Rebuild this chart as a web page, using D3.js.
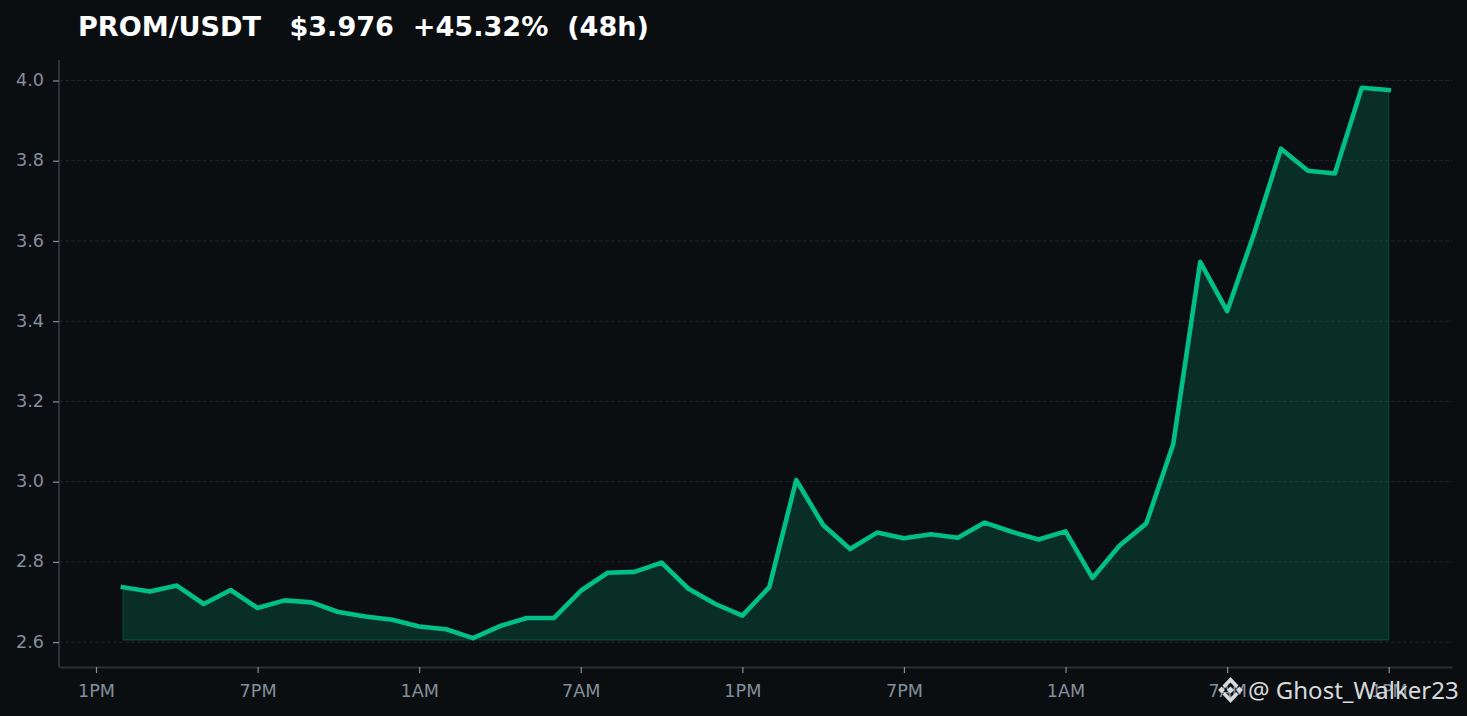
<!DOCTYPE html>
<html>
<head>
<meta charset="utf-8">
<title>PROM/USDT</title>
<script src="https://cdn.jsdelivr.net/npm/d3@7"></script>
<style>
  html, body { margin: 0; padding: 0; background: #0b0e11; overflow: hidden; }
  text { font-family: "DejaVu Sans", sans-serif; }
</style>
</head>
<body>
<div id="chart"></div>
<script>
// hourly closes, first point is 2PM
const prices = [
  2.737, 2.726, 2.741, 2.695, 2.730, 2.685, 2.704, 2.699, 2.675, 2.664,
  2.656, 2.639, 2.632, 2.610, 2.640, 2.660, 2.660, 2.728, 2.773, 2.775,
  2.798, 2.733, 2.695, 2.666, 2.737, 3.004, 2.892, 2.832, 2.873, 2.859,
  2.869, 2.860, 2.898, 2.875, 2.856, 2.876, 2.760, 2.840, 2.896, 3.094,
  3.548, 3.425, 3.618, 3.830, 3.775, 3.768, 3.982, 3.976
];
const hours = prices.map((d, i) => i + 1); // hours after the first 1PM tick
const xTicks = [0, 6, 12, 18, 24, 30, 36, 42, 48];
const xTickLabels = ["1PM", "7PM", "1AM", "7AM", "1PM", "7PM", "1AM", "7AM", "1PM"];
const yTicks = [2.6, 2.8, 3.0, 3.2, 3.4, 3.6, 3.8, 4.0];
const fillBase = 2.605;
const titleText = "PROM/USDT   $3.976  +45.32%  (48h)";

const W = 1467, H = 716;
const margin = { top: 60, right: 15, bottom: 49, left: 59 };
const green = "#00c087";

const svg = d3.select("#chart").append("svg")
  .attr("width", W)
  .attr("height", H)
  .style("display", "block");

svg.append("rect").attr("width", W).attr("height", H).attr("fill", "#0b0e11");

const x = d3.scaleLinear().domain([-1.374, 50.35]).range([margin.left, W - margin.right]);
const y = d3.scaleLinear().domain([2.538, 4.051]).range([H - margin.bottom, margin.top]);

// Grid
svg.append("g")
  .selectAll("line")
  .data(yTicks)
  .enter().append("line")
  .attr("x1", margin.left)
  .attr("x2", W - margin.right)
  .attr("y1", d => y(d))
  .attr("y2", d => y(d))
  .attr("stroke", "#1e2329")
  .attr("stroke-width", 1)
  .attr("stroke-dasharray", "4,2");

// Area under the line
const area = d3.area()
  .x((d, i) => x(hours[i]))
  .y0(y(fillBase))
  .y1(d => y(d));

svg.append("path")
  .datum(prices)
  .attr("d", area)
  .attr("fill", green)
  .attr("fill-opacity", 0.18)
  .attr("stroke", green)
  .attr("stroke-opacity", 0.18)
  .attr("stroke-width", 1.5);

const line = d3.line()
  .x((d, i) => x(hours[i]))
  .y(d => y(d));

svg.append("path")
  .datum(prices)
  .attr("d", line)
  .attr("fill", "none")
  .attr("stroke", green)
  .attr("stroke-width", 4.6)
  .attr("stroke-linejoin", "round")
  .attr("stroke-linecap", "square");

// Axes
const xAxis = svg.append("g")
  .attr("transform", `translate(0,${H - margin.bottom})`)
  .call(d3.axisBottom(x)
    .tickValues(xTicks)
    .tickFormat((d, i) => xTickLabels[i])
    .tickSize(6)
    .tickPadding(11.5)
    .tickSizeOuter(0));

const yAxis = svg.append("g")
  .attr("transform", `translate(${margin.left},0)`)
  .call(d3.axisLeft(y)
    .tickValues(yTicks)
    .tickFormat(d3.format(".1f"))
    .tickSize(6)
    .tickPadding(9)
    .tickSizeOuter(0));

[xAxis, yAxis].forEach(a => {
  a.select(".domain").attr("stroke", "#2b3139").attr("stroke-width", 2);
  a.selectAll(".tick line").attr("stroke", "#848e9c").attr("stroke-width", 1.2);
  a.selectAll(".tick text")
    .attr("fill", "#848e9c")
    .style("font-family", '"DejaVu Sans", sans-serif')
    .style("font-size", "17.6px");
});

yAxis.selectAll(".tick text").attr("dy", "0.29em");

// spine runs up to the top of the plot
yAxis.select(".domain").attr("d", `M0,${H - margin.bottom}V${margin.top}`);

// Title
svg.append("text")
  .attr("x", 78)
  .attr("y", 36)
  .attr("fill", "#ffffff")
  .style("font-size", "27.1px")
  .style("font-weight", "bold")
  .style("white-space", "pre")
  .attr("xml:space", "preserve")
  .text(titleText);

// Watermark, logo then handle
const logo = svg.append("g")
  .attr("transform", "translate(1230.5,690)")
  .attr("fill", "#d8dadc");
[[0, 0, 3.6], [-9, 0, 3.4], [9, 0, 3.4]].forEach(p => {
  logo.append("path")
    .attr("d", d3.line()([[p[0], p[1] - p[2]], [p[0] + p[2], p[1]], [p[0], p[1] + p[2]], [p[0] - p[2], p[1]]]) + "Z");
});
logo.append("path")
  .attr("d", "M-8,-4.5L0,-13L8,-4.5L5.5,-2L0,-7.5L-5.5,-2ZM-8,4.5L0,13L8,4.5L5.5,2L0,7.5L-5.5,2Z");

svg.append("text")
  .attr("x", 1248)
  .attr("y", 699)
  .attr("fill", "#d8dadc")
  .style("font-family", '"Noto Sans", sans-serif')
  .style("font-size", "24px")
  .text("@ Ghost_Walker23");
</script>
</body>
</html>
